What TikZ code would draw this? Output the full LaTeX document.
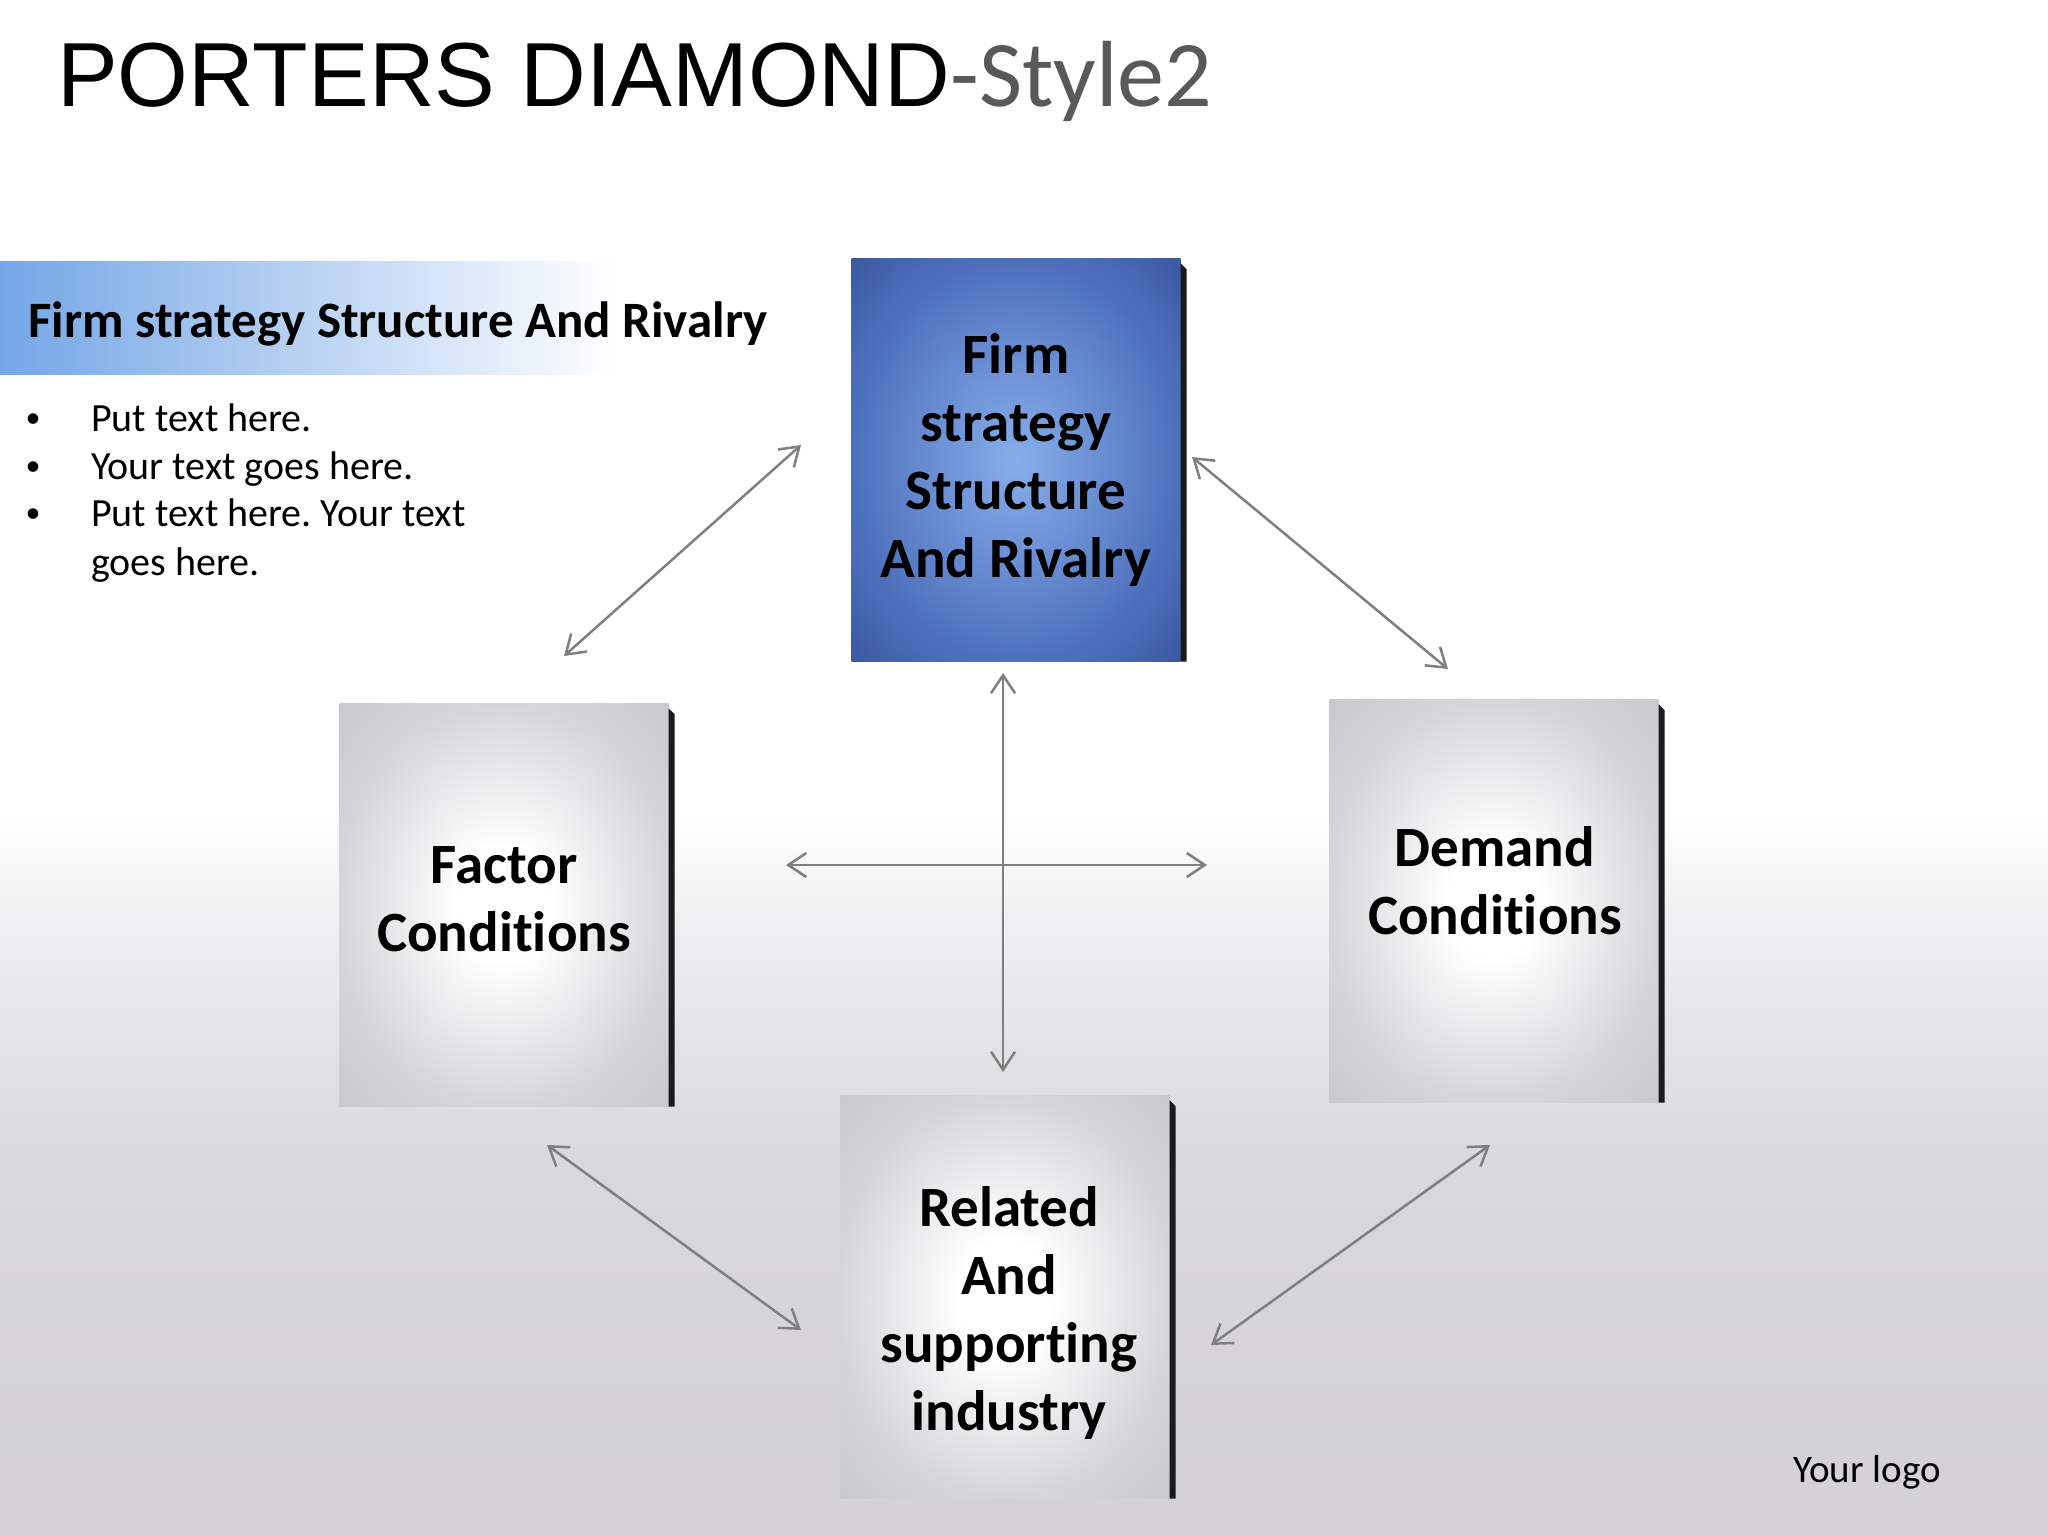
\documentclass[tikz,border=0pt]{standalone}
\usepackage{fontspec}
\setmainfont{Carlito}[Ligatures=NoCommon]
\newfontfamily\arialfont{Liberation Sans}
\usetikzlibrary{arrows.meta,calc}
\frenchspacing
\definecolor{bgB}{HTML}{D3D1D6}
\definecolor{bgA}{HTML}{D8D7DB}
\definecolor{bgC}{HTML}{E3E2E5}
\definecolor{bgD}{HTML}{F0F0F2}
\definecolor{titlegrey}{HTML}{595959}
\definecolor{arrowgrey}{HTML}{7F7F7F}
\definecolor{greymid}{HTML}{D6D6DA}
\definecolor{greyout}{HTML}{C8C8CC}
\definecolor{blueinner}{HTML}{88AEEA}
\definecolor{bluemid}{HTML}{4E70BC}
\definecolor{blueouter}{HTML}{3A579F}
\definecolor{bandleft}{HTML}{74A6E6}
\definecolor{bandmid}{HTML}{A8BEDD}
\definecolor{sidecol}{HTML}{1A1A1A}
\pgfdeclareverticalshading{bgshade}{100bp}{color(0bp)=(bgB); color(25bp)=(bgB); color(36.7bp)=(bgA); color(41bp)=(bgC); color(45.2bp)=(bgD); color(48.5bp)=(white); color(100bp)=(white)}
\pgfdeclareradialshading{greyshade}{\pgfpoint{0bp}{0bp}}{color(0bp)=(white); color(7bp)=(white); color(25bp)=(greymid); color(36bp)=(greyout); color(50bp)=(greyout)}
\pgfdeclareradialshading{blueshade}{\pgfpoint{0bp}{0bp}}{color(0bp)=(blueinner); color(25bp)=(bluemid); color(36bp)=(blueouter); color(50bp)=(blueouter)}
\tikzset{
  >={Straight Barb[length=18pt,width=24pt,line width=2.5pt]},
  greybox/.style={inner sep=0pt, minimum width=329pt, minimum height=403pt, shading=greyshade},
  bluebox/.style={inner sep=0pt, minimum width=329pt, minimum height=403pt, shading=blueshade},
  boxtext/.style={align=center, font=\fontsize{57}{68}\selectfont\bfseries, text=black, inner sep=0pt},
  conn/.style={draw=arrowgrey, line width=2.5pt, <->},
  bullettext/.style={anchor=base west, inner sep=0pt, font=\fontsize{40}{48}\selectfont},
  bulletdot/.style={anchor=base, inner sep=0pt, font=\fontsize{30}{36}\selectfont},
}
\newcommand{\sidestrip}[1]{\fill[sidecol] ([yshift=-5pt]#1.north east) -- ++(6,6) -- ([xshift=6pt]#1.south east) -- (#1.south east) -- cycle;}
\begin{document}
\begin{tikzpicture}[x=1pt,y=-1pt]
\useasboundingbox (0,0) rectangle (2048,1536);
\shade[shading=bgshade] (0,0) rectangle (2048,1536);

% title
\node[anchor=base west, inner sep=0pt] (title) at (57,107)
  {{\arialfont\fontsize{91}{91}\selectfont PORTERS DIAMOND}{\color{titlegrey}\fontsize{94}{94}\selectfont -Style2}};

% band
\shade[left color=bandleft, middle color=bandmid, right color=white] (0,261) rectangle (620,374);
\node[anchor=base west, inner sep=0pt, font=\fontsize{51}{60}\selectfont\bfseries] (bandtitle) at (28,337) {Firm strategy Structure And Rivalry};

% bullets
\node[bulletdot] (d1) at (33,427) {•};
\node[bulletdot] (d2) at (33,475) {•};
\node[bulletdot] (d3) at (33,522) {•};
\node[bullettext] (t1) at (91,431) {Put text here.};
\node[bullettext] (t2) at (91,479) {Your text goes here.};
\node[bullettext] (t3) at (91,526) {Put text here. Your text};
\node[bullettext] (t4) at (91,575) {goes here.};

% boxes
\node[bluebox] (firm) at (1016,460) {};
\sidestrip{firm}
\node[greybox] (factor) at (504,905) {};
\sidestrip{factor}
\node[greybox] (demand) at (1494,901) {};
\sidestrip{demand}
\node[greybox] (related) at (1005,1297) {};
\sidestrip{related}

\node[boxtext] (firmtext) at (1016,460) {Firm\\strategy\\Structure\\And Rivalry};
\node[boxtext] (factortext) at (504,899) {Factor\\Conditions};
\node[boxtext] (demandtext) at (1495,881) {Demand\\Conditions};
\node[boxtext] (relatedtext) at (1009,1313) {Related\\And\\supporting\\industry};

% connector end points
\coordinate (a1s) at (564,656);  \coordinate (a1e) at (801,445);
\coordinate (a2s) at (1192,457); \coordinate (a2e) at (1448,669);
\coordinate (a3s) at (1003,673); \coordinate (a3e) at (1003,1072);
\coordinate (a4s) at (786,865);  \coordinate (a4e) at (1207,865);
\coordinate (a5s) at (547,1145); \coordinate (a5e) at (801,1330);
\coordinate (a6s) at (1211,1345); \coordinate (a6e) at (1490,1145);

\draw[conn] (a1s) -- (a1e);
\draw[conn] (a2s) -- (a2e);
\draw[conn] (a3s) -- (a3e);
\draw[conn] (a4s) -- (a4e);
\draw[conn] (a5s) -- (a5e);
\draw[conn] (a6s) -- (a6e);

\node[anchor=base west, inner sep=0pt, font=\fontsize{39}{46}\selectfont] (logo) at (1793,1482) {Your logo};
\end{tikzpicture}
\end{document}
